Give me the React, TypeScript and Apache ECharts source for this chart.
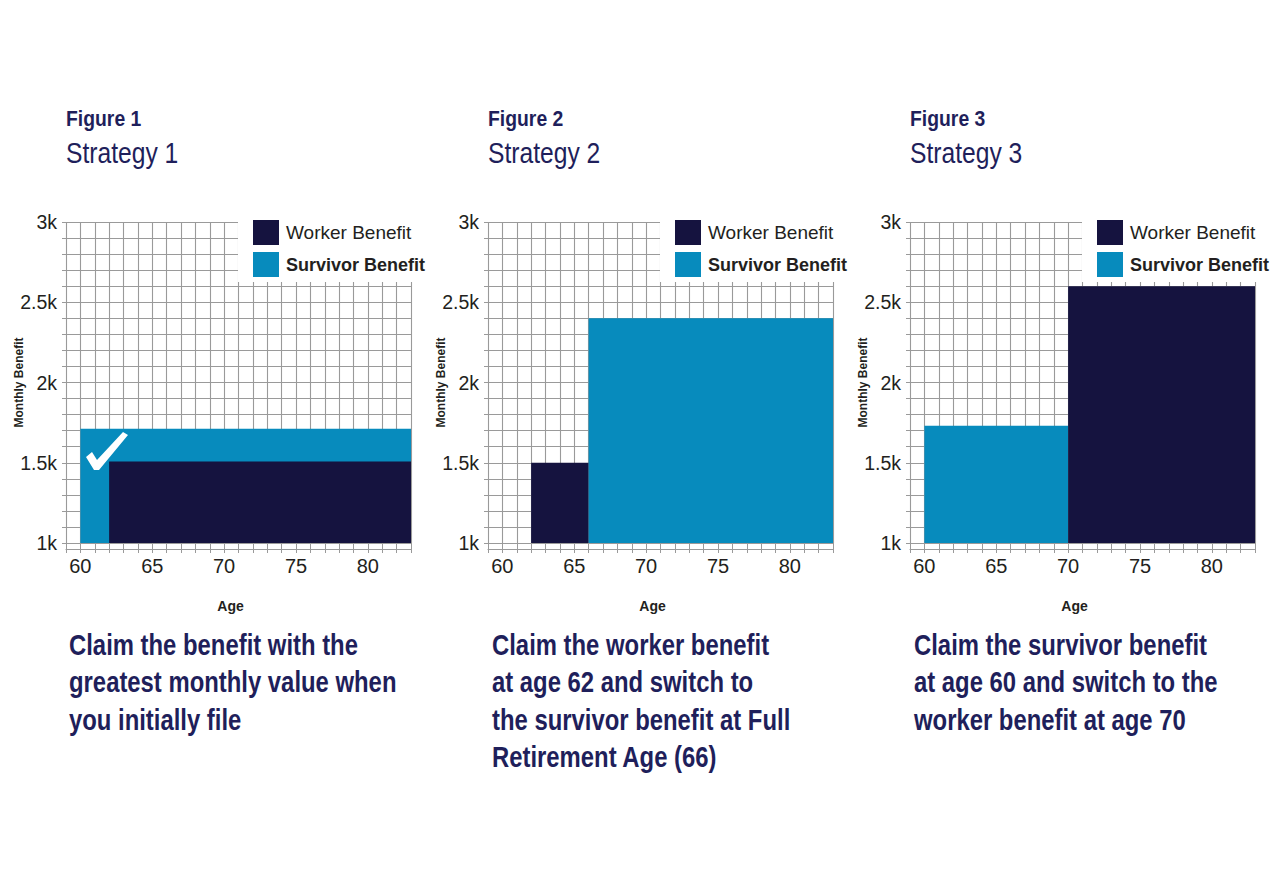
import React, { useEffect, useRef } from "react";
import * as echarts from "echarts";

// ---------- data ----------
const AGE_MIN = 59;
const AGE_MAX = 83;
const BENEFIT_MIN = 1000;
const BENEFIT_MAX = 3000;
const ageLabels = [60, 65, 70, 75, 80];
const benefitLabels = ["1k", "1.5k", "2k", "2.5k", "3k"];

// [start age, end age, monthly benefit]
const fig1Survivor = [[60, 83, 1712]];
const fig1Worker = [[62, 83, 1508]];
const fig2Worker = [[62, 66, 1500]];
const fig2Survivor = [[66, 83, 2400]];
const fig3Survivor = [[60, 70, 1730]];
const fig3Worker = [[70, 83, 2600]];

const figureTitles = ["Figure 1", "Figure 2", "Figure 3"];
const strategyTitles = ["Strategy 1", "Strategy 2", "Strategy 3"];
const captions = [
  "Claim the benefit with the\ngreatest monthly value when\nyou initially file",
  "Claim the worker benefit\nat age 62 and switch to\nthe survivor benefit at Full\nRetirement Age (66)",
  "Claim the survivor benefit\nat age 60 and switch to the\nworker benefit at age 70",
];

// ---------- style ----------
const NAVY_TEXT = "#1f1f5b";
const WORKER = "#15133f";
const SURVIVOR = "#078bbd";
const GRIDLINE = "#9a9a9a";
const TEXT = "#231f20";
const SANS = "'Liberation Sans', Arial, sans-serif";

const GRID_LEFTS = [66, 488, 910];
const GRID_TOP = 222;
const GRID_W = 345;
const GRID_H = 321;

export default function App() {
  const ref = useRef<HTMLDivElement>(null);

  useEffect(() => {
    if (!ref.current) return;
    const chart = echarts.init(ref.current, undefined, { renderer: "svg" });

    const panels = [
      [
        { name: "Survivor Benefit", data: fig1Survivor, color: SURVIVOR },
        { name: "Worker Benefit", data: fig1Worker, color: WORKER },
      ],
      [
        { name: "Worker Benefit", data: fig2Worker, color: WORKER },
        { name: "Survivor Benefit", data: fig2Survivor, color: SURVIVOR },
      ],
      [
        { name: "Survivor Benefit", data: fig3Survivor, color: SURVIVOR },
        { name: "Worker Benefit", data: fig3Worker, color: WORKER },
      ],
    ];

    const grid: any[] = [];
    const xAxis: any[] = [];
    const yAxis: any[] = [];
    const series: any[] = [];
    const legend: any[] = [];
    const graphic: any[] = [];

    GRID_LEFTS.forEach((left, i) => {
      grid.push({ left, top: GRID_TOP, width: GRID_W, height: GRID_H });
      // main x axis (grid lines, ticks, labels)
      xAxis.push({
        type: "value",
        gridIndex: i,
        min: AGE_MIN,
        max: AGE_MAX,
        interval: 1,
        position: "bottom",
        name: "Age",
        nameLocation: "middle",
        nameGap: 56,
        nameMoveOverlap: false,
        nameTextStyle: {
          fontFamily: SANS,
          fontWeight: "bold",
          fontSize: 14,
          color: TEXT,
          padding: [0, 16, 0, 0],
        },
        axisLine: { show: false },
        axisTick: { show: true, length: 10, lineStyle: { color: GRIDLINE, width: 1 } },
        splitLine: { show: true, lineStyle: { color: GRIDLINE, width: 1.1 } },
        axisLabel: {
          margin: 13,
          fontFamily: SANS,
          fontSize: 20,
          color: TEXT,
          formatter: (v: number) => (ageLabels.includes(v) ? String(v) : ""),
        },
      });
      // secondary axis: the axis line a little below the 1k line
      xAxis.push({
        type: "value",
        gridIndex: i,
        min: AGE_MIN,
        max: AGE_MAX,
        position: "top",
        offset: -(GRID_H + 6),
        axisLine: { show: true, lineStyle: { color: GRIDLINE, width: 1.1 } },
        axisTick: { show: false },
        axisLabel: { show: false },
        splitLine: { show: false },
      });
      yAxis.push({
        type: "value",
        gridIndex: i,
        min: BENEFIT_MIN,
        max: BENEFIT_MAX,
        interval: 100,
        name: "Monthly Benefit",
        nameLocation: "middle",
        nameGap: 41,
        nameMoveOverlap: false,
        nameRotate: 90,
        nameTextStyle: { fontFamily: SANS, fontWeight: "bold", fontSize: 12, color: TEXT },
        axisLine: { show: false },
        axisTick: { show: true, length: 4, lineStyle: { color: GRIDLINE, width: 1 } },
        splitLine: { show: true, lineStyle: { color: GRIDLINE, width: 1.1 } },
        axisLabel: {
          margin: 9,
          fontFamily: SANS,
          fontSize: 19.5,
          color: TEXT,
          formatter: (v: number) => {
            if (v % 500 !== 0) return "";
            const idx = (v - BENEFIT_MIN) / 500;
            return benefitLabels[idx] ?? "";
          },
        },
      });
      panels[i].forEach((p) => {
        series.push({
          type: "custom",
          name: p.name,
          xAxisIndex: i * 2,
          yAxisIndex: i,
          data: p.data,
          itemStyle: { color: p.color },
          encode: { x: [0, 1], y: 2 },
          z: 3,
          renderItem: (_params: any, api: any) => {
            const x0 = api.value(0);
            const x1 = api.value(1);
            const v = api.value(2);
            const p0 = api.coord([x0, v]);
            const p1 = api.coord([x1, BENEFIT_MIN]);
            return {
              type: "rect",
              shape: { x: p0[0], y: p0[1], width: p1[0] - p0[0], height: p1[1] - p0[1] },
              style: { fill: api.visual("color") },
            };
          },
        });
      });
      legend.push({
        left: left + 172,
        top: GRID_TOP - 7,
        orient: "vertical",
        backgroundColor: "#ffffff",
        padding: [5, 12, 5, 15],
        itemWidth: 26,
        itemHeight: 25,
        itemGap: 7,
        icon: "rect",
        selectedMode: false,
        textStyle: { fontFamily: SANS, fontSize: 19, color: TEXT, padding: [0, 0, 0, 2] },
        data: [
          { name: "Worker Benefit" },
          { name: "Survivor Benefit", textStyle: { fontWeight: "bold", fontSize: 18 } },
        ],
      });
      graphic.push({
        type: "text",
        x: left,
        y: 118,
        scaleX: 0.88,
        style: {
          text: figureTitles[i],
          font: `bold 22px ${SANS}`,
          fill: NAVY_TEXT,
          verticalAlign: "middle",
        },
      });
      graphic.push({
        type: "text",
        x: left,
        y: 153,
        scaleX: 0.85,
        style: {
          text: strategyTitles[i],
          font: `29px ${SANS}`,
          fill: NAVY_TEXT,
          verticalAlign: "middle",
        },
      });
      graphic.push({
        type: "text",
        x: left + 3 + (i === 0 ? 0 : 1),
        y: 626,
        scaleX: 0.823,
        style: {
          text: captions[i],
          font: `bold 29px ${SANS}`,
          lineHeight: 37.5,
          fill: NAVY_TEXT,
          verticalAlign: "top",
        },
      });
    });

    // check mark on figure 1
    graphic.push({
      type: "polygon",
      z: 10,
      shape: {
        points: [
          [86, 457],
          [92, 452],
          [97, 460],
          [123, 432],
          [128, 435],
          [99, 470],
          [94, 470],
        ],
      },
      style: { fill: "#ffffff" },
    });

    chart.setOption({
      animation: false,
      backgroundColor: "#ffffff",
      grid,
      xAxis,
      yAxis,
      series,
      legend,
      graphic,
    });

    return () => chart.dispose();
  }, []);

  return (
    <div
      ref={ref}
      style={{ position: "fixed", left: 0, top: 0, width: 1280, height: 869 }}
    />
  );
}
